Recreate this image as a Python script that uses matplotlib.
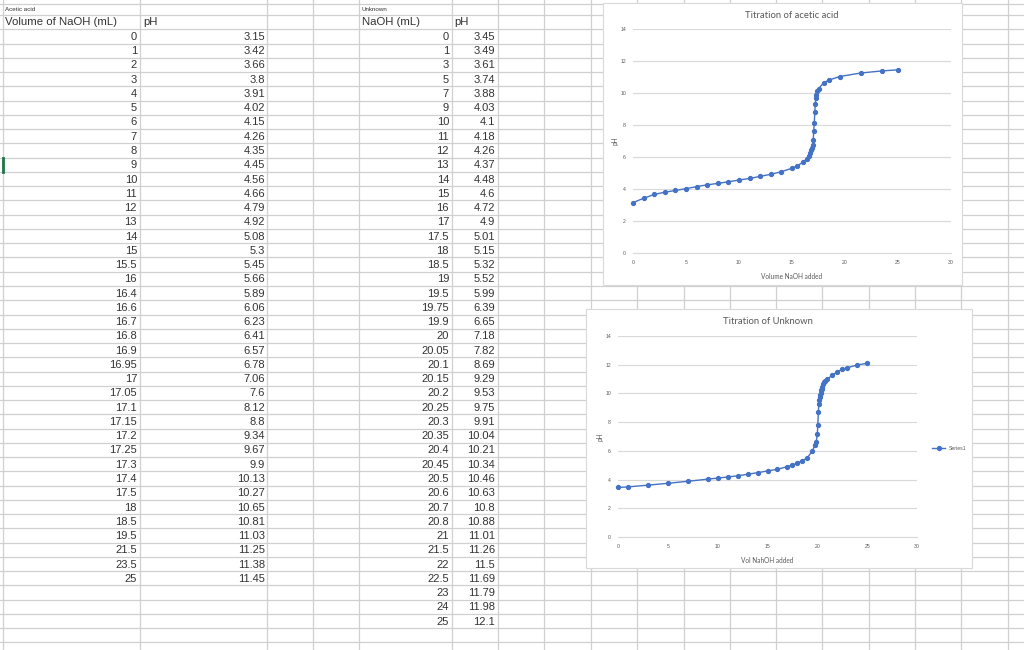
import matplotlib.pyplot as plt
from matplotlib.patches import Rectangle
import numpy as np

# acetic acid titration
acid_vol = [0, 1, 2, 3, 4, 5, 6, 7, 8, 9, 10, 11, 12, 13, 14, 15, 15.5, 16, 16.4, 16.6,
            16.7, 16.8, 16.9, 16.95, 17, 17.05, 17.1, 17.15, 17.2, 17.25, 17.3, 17.4,
            17.5, 18, 18.5, 19.5, 21.5, 23.5, 25]
acid_ph = [3.15, 3.42, 3.66, 3.8, 3.91, 4.02, 4.15, 4.26, 4.35, 4.45, 4.56, 4.66, 4.79,
           4.92, 5.08, 5.3, 5.45, 5.66, 5.89, 6.06, 6.23, 6.41, 6.57, 6.78, 7.06, 7.6,
           8.12, 8.8, 9.34, 9.67, 9.9, 10.13, 10.27, 10.65, 10.81, 11.03, 11.25, 11.38,
           11.45]

# unknown titration
unk_vol = [0, 1, 3, 5, 7, 9, 10, 11, 12, 13, 14, 15, 16, 17, 17.5, 18, 18.5, 19, 19.5,
           19.75, 19.9, 20, 20.05, 20.1, 20.15, 20.2, 20.25, 20.3, 20.35, 20.4, 20.45,
           20.5, 20.6, 20.7, 20.8, 21, 21.5, 22, 22.5, 23, 24, 25]
unk_ph = [3.45, 3.49, 3.61, 3.74, 3.88, 4.03, 4.1, 4.18, 4.26, 4.37, 4.48, 4.6, 4.72,
          4.9, 5.01, 5.15, 5.32, 5.52, 5.99, 6.39, 6.65, 7.18, 7.82, 8.69, 9.29, 9.53,
          9.75, 9.91, 10.04, 10.21, 10.34, 10.46, 10.63, 10.8, 10.88, 11.01, 11.26, 11.5,
          11.69, 11.79, 11.98, 12.1]

W, H = 1024, 650
blue = '#4472C4'
grey_txt = '#595959'
grid_c = '#d9d9d9'
cell_c = '#d0d0d0'
txt_c = '#333333'
plt.rcParams['font.family'] = ['Liberation Sans', 'DejaVu Sans']

fig = plt.figure(figsize=(W / 100, H / 100), dpi=100)
bg = fig.add_axes([0, 0, 1, 1])
bg.set_xlim(0, W)
bg.set_ylim(H, 0)
bg.axis('off')

# spreadsheet grid
col_x = [3, 140, 267, 313, 359, 452, 498, 544, 591] + list(np.arange(637.3, W, 46.3))
row_h = 14.26
row0 = 29.3
row_y = [4, 14.7] + list(np.arange(row0, H, row_h))
for x in col_x:
    bg.axvline(x, color=cell_c, lw=0.9, zorder=1)
for y in row_y:
    bg.axhline(y, color=cell_c, lw=0.9, zorder=1)
# selected cell marker
bg.plot([3, 3], [row0 + 9 * row_h, row0 + 10 * row_h], color='#217346', lw=2, zorder=2)

def fmt(v):
    return '{:g}'.format(v)

def row_mid(i):
    return row0 + row_h * (i + 0.5) + 0.5

# acetic acid table
bg.text(5, 9.5, 'Acetic acid', fontsize=4.5, color=txt_c, va='center')
bg.text(5, 22, 'Volume of NaOH (mL)', fontsize=8.2, color=txt_c, va='center')
bg.text(143, 22, 'pH', fontsize=8.2, color=txt_c, va='center')
for i, (v, p) in enumerate(zip(acid_vol, acid_ph)):
    bg.text(137, row_mid(i), fmt(v), fontsize=8, color=txt_c, ha='right', va='center')
    bg.text(265, row_mid(i), fmt(p), fontsize=8, color=txt_c, ha='right', va='center')

# unknown table
bg.text(362, 9.5, 'Unknown', fontsize=4.5, color=txt_c, va='center')
bg.text(362, 22, 'NaOH (mL)', fontsize=8.2, color=txt_c, va='center')
bg.text(454, 22, 'pH', fontsize=8.2, color=txt_c, va='center')
for i, (v, p) in enumerate(zip(unk_vol, unk_ph)):
    bg.text(449, row_mid(i), fmt(v), fontsize=8, color=txt_c, ha='right', va='center')
    bg.text(495, row_mid(i), fmt(p), fontsize=8, color=txt_c, ha='right', va='center')


def chart(box, plot, title, xlabel, ylabel_x):
    x0, y0, x1, y1 = box
    bg.add_patch(Rectangle((x0, y0), x1 - x0, y1 - y0, facecolor='white',
                           edgecolor=grid_c, lw=0.8, zorder=5))
    px0, py0, px1, py1 = plot
    ax = fig.add_axes([px0 / W, 1 - py1 / H, (px1 - px0) / W, (py1 - py0) / H])
    ax.set_facecolor('none')
    ax.set_xlim(0, 30)
    ax.set_ylim(0, 14)
    ax.set_xticks(range(0, 31, 5))
    ax.set_yticks(range(0, 15, 2))
    ax.tick_params(length=0, labelsize=3.7, labelcolor=grey_txt, pad=5)
    for s in ['top', 'right', 'left']:
        ax.spines[s].set_visible(False)
    ax.spines['bottom'].set_color(grid_c)
    ax.spines['bottom'].set_linewidth(0.8)
    ax.yaxis.grid(True, color=grid_c, lw=0.8)
    ax.set_axisbelow(True)
    fig.text((px0 + px1) / 2 / W, 1 - (y0 + 12) / H, title, fontsize=6.8,
             color=grey_txt, ha='center', va='center', family='Lato')
    ax.set_xlabel(xlabel, fontsize=4.7, color=grey_txt, labelpad=6, family='Lato')
    fig.text(ylabel_x / W, 1 - (py0 + py1) / 2 / H, 'pH', fontsize=4.7, color=grey_txt,
             rotation=90, ha='center', va='center', family='Lato')
    return ax


ax1 = chart((603, 3, 962, 285), (633, 29, 951, 253), 'Titration of acetic acid',
            'Volume NaOH added', 615)
ax1.plot(acid_vol, acid_ph, color=blue, lw=1, marker='o', ms=2.8, label='Series1',
         clip_on=False)

ax2 = chart((586, 309, 972, 568), (618, 336, 917, 537), 'Titration of Unknown',
            'Vol NahOH added', 600)
ax2.plot(unk_vol, unk_ph, color=blue, lw=1, marker='o', ms=2.8, label='Series1',
         clip_on=False)
ax2.legend(loc='center left', bbox_to_anchor=(1.035, 0.44), frameon=False,
           fontsize=3.7, handlelength=2.5, labelcolor=grey_txt)

fig.savefig('out.png', dpi=100)
